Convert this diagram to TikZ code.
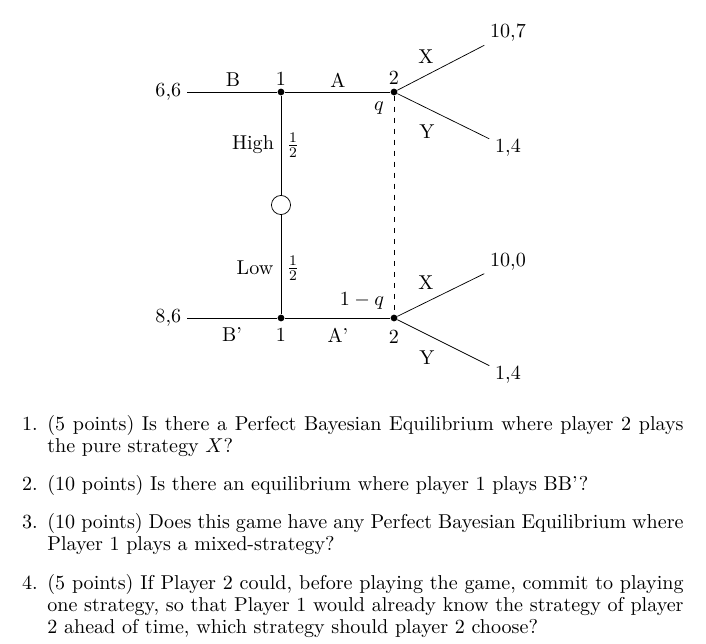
\documentclass[tikz,border=0pt]{standalone}
\usetikzlibrary{positioning}
\tikzset{
    decision/.style = {circle, fill, inner sep=1.3pt},
    chance/.style = {circle, draw, minimum size=10.4pt, inner sep=0pt},
    payoff/.style = {inner sep=3pt},
    info set/.style = {draw, dashed},
    question/.style = {text width=347pt, align=justify, inner sep=0pt, anchor=base west},
    qnum/.style = {inner sep=0pt, anchor=base east},
}
\begin{document}
\begin{tikzpicture}[x=0.5454pt, y=-0.5454pt, every node/.style={font=\fontsize{10.95}{12}\selectfont}]
				\useasboundingbox (0, 0) rectangle (706, 644);

				% decision and chance nodes
				\node[decision] (H1) at (281, 92) {};
				\node[decision] (H2) at (394, 92) {};
				\node[chance] (N) at (281, 205) {};
				\node[decision] (L1) at (281, 318) {};
				\node[decision] (L2) at (394, 318) {};

				% payoffs
				\node[payoff, anchor=east] (HB) at (187, 92) {6,6};
				\node[payoff, anchor=east] (LB) at (187, 318) {8,6};
				\node[payoff] (HX) at (508, 33) {10,7};
				\node[payoff] (HY) at (508, 148) {1,4};
				\node[payoff] (LX) at (508, 262) {10,0};
				\node[payoff] (LY) at (508, 375) {1,4};

				\draw (HB.east) -- (H1) -- (H2);
				\draw (LB.east) -- (L1) -- (L2);
				\draw (H1) -- (N) -- (L1);
				\draw (H2) -- (HX);
				\draw (H2) -- (HY);
				\draw (L2) -- (LX);
				\draw (L2) -- (LY);
				\draw[info set] (H2) -- (L2);

				% labels
				\node (lB) at (233, 80) {B};
				\node (lA) at (338, 80) {A};
				\node (lH1) at (281, 79) {1};
				\node (lH2) at (394, 78) {2};
				\node (lq) at (379, 108) {$q$};
				\node (lHX) at (426, 57) {X};
				\node (lHY) at (427, 132) {Y};
				\node (lHigh) at (253, 145) {High};
				\node (pHigh) at (293, 145) {$\frac{1}{2}$};
				\node (lLow) at (255, 268) {Low};
				\node (pLow) at (293, 268) {$\frac{1}{2}$};
				\node (l1q) at (362, 301) {$1-q$};
				\node (lBp) at (232, 335) {B'};
				\node (lAp) at (338, 335) {A'};
				\node (lL1) at (281, 335) {1};
				\node (lL2) at (394, 337) {2};
				\node (lLX) at (426, 283) {X};
				\node (lLY) at (427, 358) {Y};

				% questions
				\node[qnum] (n1) at (38, 430) {1.};
				\node[question] (q1) at (47, 430) {(5 points) Is there a Perfect Bayesian Equilibrium where player 2 plays the pure strategy $X$?};
				\node[qnum] (n2) at (38, 490) {2.};
				\node[question] (q2) at (47, 490) {(10 points) Is there an equilibrium where player 1 plays BB'?};
				\node[qnum] (n3) at (38, 528) {3.};
				\node[question] (q3) at (47, 528) {(10 points) Does this game have any Perfect Bayesian Equilibrium where Player 1 plays a mixed-strategy?};
				\node[qnum] (n4) at (38, 589) {4.};
				\node[question] (q4) at (47, 589) {(5 points) If Player 2 could, before playing the game, commit to playing one strategy, so that Player 1 would already know the strategy of player 2 ahead of time, which strategy should player 2 choose?};
			\end{tikzpicture}
\end{document}
